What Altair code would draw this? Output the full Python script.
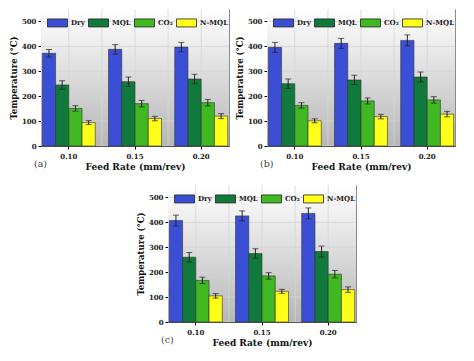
import altair as alt
import pandas as pd

# ---------------- data ----------------
feed_rates = ["0.10", "0.15", "0.20"]
conditions = ["Dry", "MQL", "CO₂", "N-MQL"]
colors = ["#3b4fd6", "#0f7a3c", "#3fb822", "#ffff1a"]
y_ticks = [0, 100, 200, 300, 400, 500]

# panel (a)
a_dry = [372, 388, 397]
a_mql = [245, 258, 269]
a_co2 = [151, 170, 174]
a_nmql = [94, 110, 120]
a_err_dry = [15, 19, 19]
a_err_mql = [17, 19, 19]
a_err_co2 = [11, 13, 13]
a_err_nmql = [8, 9, 10]

# panel (b)
b_dry = [396, 412, 424]
b_mql = [250, 265, 277]
b_co2 = [163, 181, 185]
b_nmql = [101, 118, 128]
b_err_dry = [20, 20, 22]
b_err_mql = [19, 19, 20]
b_err_co2 = [11, 12, 13]
b_err_nmql = [8, 9, 11]

# panel (c)
c_dry = [407, 426, 436]
c_mql = [260, 275, 283]
c_co2 = [167, 185, 192]
c_nmql = [105, 123, 130]
c_err_dry = [22, 20, 22]
c_err_mql = [19, 19, 22]
c_err_co2 = [13, 13, 15]
c_err_nmql = [9, 8, 11]

FONT = "DejaVu Serif"
W, H = 188, 137
GRID = "#d6d6d6"
PAD_IN, PAD_OUT = 0.2, 0.02
STEP = W / (len(feed_rates) - PAD_IN + 2 * PAD_OUT)


def build_df(series, errors):
    rows = []
    for cond, vals, errs in zip(conditions, series, errors):
        for f, v, e in zip(feed_rates, vals, errs):
            rows.append({"feed": f, "cond": cond, "temp": v, "err": e})
    return pd.DataFrame(rows)


X_AX = alt.Axis(title="Feed Rate (mm/rev)", labelAngle=0, labelPadding=3,
                titlePadding=3, ticks=True, grid=False, titleFontSize=9)
Y_AX = alt.Axis(title="Temperature (°C)", values=y_ticks, labelPadding=2,
                titlePadding=3, grid=False, titleFontSize=8.5)
X_SCALE = alt.Scale(paddingInner=PAD_IN, paddingOuter=PAD_OUT)
Y_SCALE = alt.Scale(domain=[0, 550], nice=False)


def X(**kw):
    return alt.X("feed:N", sort=feed_rates, scale=X_SCALE, axis=X_AX, **kw)


def Y(field):
    return alt.Y(field, scale=Y_SCALE, axis=Y_AX)


def panel(df, label):
    one = pd.DataFrame({"k": [0]})
    bg = alt.Chart(one).mark_rect(
        fill=alt.Gradient(
            gradient="linear",
            stops=[alt.GradientStop(color="#ffffff", offset=0),
                   alt.GradientStop(color="#b6b6b6", offset=1)],
            x1=0, x2=0, y1=0, y2=1,
        )
    ).encode(x=alt.value(0), x2=alt.value(W), y=alt.value(0), y2=alt.value(H))

    hgrid = alt.Chart(pd.DataFrame({"temp": y_ticks})).mark_rule(
        color=GRID, strokeWidth=0.8
    ).encode(y=Y("temp:Q"))

    vgrid_c = alt.Chart(pd.DataFrame({"feed": feed_rates})).mark_rule(
        color=GRID, strokeWidth=0.8
    ).encode(x=X())

    vgrid_b = alt.Chart(pd.DataFrame({"feed": feed_rates[1:]})).mark_rule(
        color=GRID, strokeWidth=0.8, xOffset=-PAD_IN * STEP / 2
    ).encode(x=X(bandPosition=0))

    xo = alt.XOffset("cond:N", sort=conditions)

    bars = alt.Chart(df).mark_bar(stroke="#333333", strokeWidth=0.6).encode(
        x=X(),
        xOffset=xo,
        y=Y("temp:Q"),
        color=alt.Color(
            "cond:N", sort=conditions,
            scale=alt.Scale(domain=conditions, range=colors),
            legend=alt.Legend(
                title=None, orient="none", legendX=6, legendY=3,
                direction="horizontal", gridAlign="each", padding=0,
                symbolType="M-1,-0.4L1,-0.4L1,0.4L-1,0.4Z",
                symbolSize=400, symbolStrokeColor="#222222",
                symbolStrokeWidth=0.8, symbolOpacity=1,
                labelFont=FONT, labelFontWeight="bold", labelFontSize=7,
                labelColor="#222222", labelOffset=3, columnPadding=1,
            ),
        ),
    )

    base_err = alt.Chart(df).transform_calculate(
        lo="datum.temp - datum.err", hi="datum.temp + datum.err"
    )
    err_rule = base_err.mark_rule(color="#222222", strokeWidth=1).encode(
        x=X(), xOffset=xo, y=Y("lo:Q"), y2="hi:Q"
    )
    err_caps = base_err.transform_fold(["lo", "hi"], as_=["end", "val"]).mark_tick(
        color="#222222", size=6, thickness=1
    ).encode(x=X(), xOffset=xo, y=Y("val:Q"))

    lab = alt.Chart(one).mark_text(
        text=label, align="left", baseline="middle", font=FONT,
        fontSize=9.5, color="#444444"
    ).encode(x=alt.value(-7), y=alt.value(H + 18))

    return alt.layer(bg, hgrid, vgrid_c, vgrid_b, bars, err_rule, err_caps, lab).properties(
        width=W, height=H
    )


pa = panel(build_df([a_dry, a_mql, a_co2, a_nmql],
                    [a_err_dry, a_err_mql, a_err_co2, a_err_nmql]), "(a)")
pb = panel(build_df([b_dry, b_mql, b_co2, b_nmql],
                    [b_err_dry, b_err_mql, b_err_co2, b_err_nmql]), "(b)")
pc = panel(build_df([c_dry, c_mql, c_co2, c_nmql],
                    [c_err_dry, c_err_mql, c_err_co2, c_err_nmql]), "(c)")

spacer = alt.Chart(pd.DataFrame({"k": [0]})).mark_point(opacity=0).encode(
    x=alt.value(0), y=alt.value(0)
).properties(width=90, height=H, view=alt.ViewBackground(stroke=None))

top = alt.hconcat(pa, pb, spacing=4).resolve_scale(color="independent").resolve_legend(color="independent")
bottom = alt.hconcat(spacer, pc, spacing=4).resolve_scale(color="independent").resolve_legend(color="independent")

chart = alt.vconcat(top, bottom, spacing=10).resolve_scale(
    color="independent"
).resolve_legend(color="independent").configure_view(
    stroke="#8c8c8c", strokeWidth=1
).configure_concat(spacing=4).configure_axis(
    labelFont=FONT, labelFontWeight="bold", labelFontSize=7, labelColor="#222222",
    titleFont=FONT, titleFontWeight="bold", titleColor="#111111",
    domainColor="#000000", domainWidth=1, tickColor="#000000", tickSize=3,
).properties(padding=0, background="white")

chart.save("out.html", embed_options={"renderer": "svg", "actions": False})
